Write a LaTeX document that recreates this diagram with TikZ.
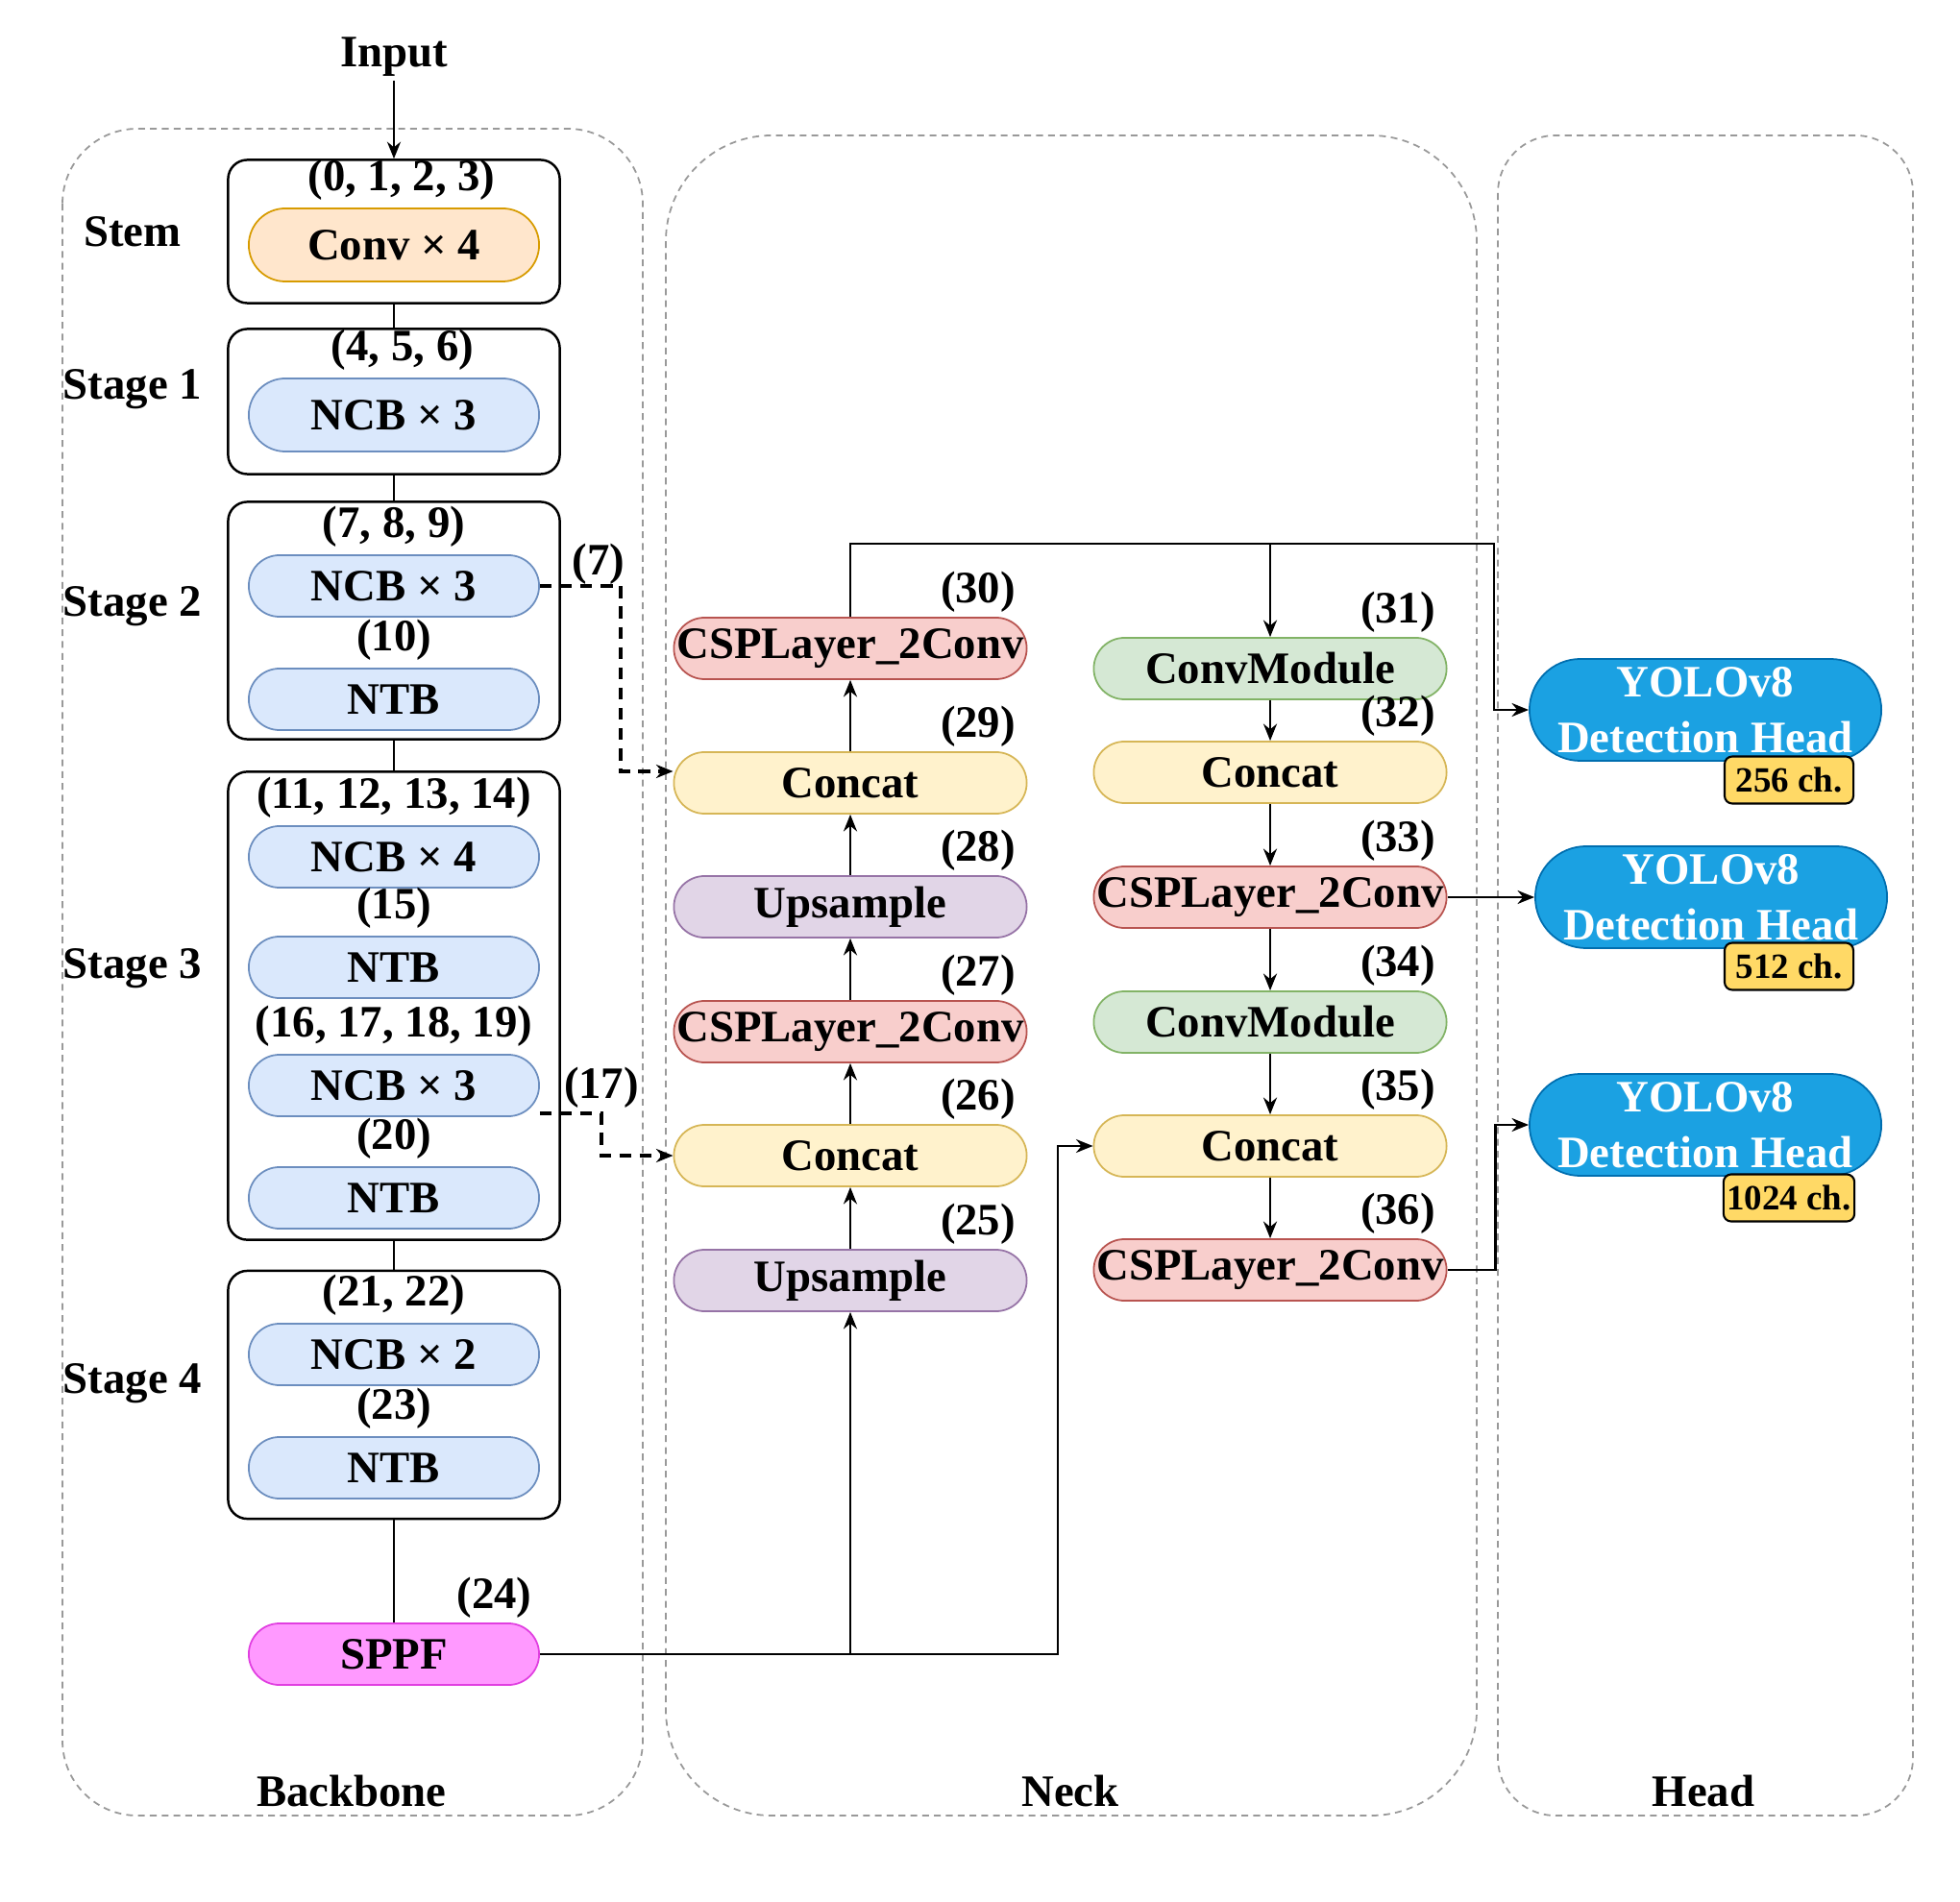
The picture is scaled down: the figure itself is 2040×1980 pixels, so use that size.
\documentclass[tikz,border=0pt]{standalone}
\usepackage{fontspec}
\setmainfont{Liberation Serif}
\usetikzlibrary{positioning, arrows.meta}

\definecolor{convfill}{HTML}{FFE6CC}
\definecolor{convline}{HTML}{D79B00}
\definecolor{ncbfill}{HTML}{DAE8FC}
\definecolor{ncbline}{HTML}{6C8EBF}
\definecolor{cspfill}{HTML}{F8CECC}
\definecolor{cspline}{HTML}{B85450}
\definecolor{catfill}{HTML}{FFF2CC}
\definecolor{catline}{HTML}{D6B656}
\definecolor{upsfill}{HTML}{E1D5E7}
\definecolor{upsline}{HTML}{9673A6}
\definecolor{cvmfill}{HTML}{D5E8D4}
\definecolor{cvmline}{HTML}{82B366}
\definecolor{sppffill}{HTML}{FF99FF}
\definecolor{sppfline}{HTML}{E03FE0}
\definecolor{yolofill}{HTML}{1BA1E2}
\definecolor{yololine}{HTML}{006EAF}
\definecolor{badgefill}{HTML}{FFD966}

\tikzset{
	every node/.style={font=\fontsize{13.3}{16.5}\selectfont\bfseries},
	group/.style={draw=gray!80, dashed, dash pattern=on 2pt off 1.5pt, line width=0.5pt},
	lbl/.style={inner sep=1pt},
	idx/.style={inner sep=1pt},
	stagebox/.style={draw, rectangle, rounded corners=0.2cm, line width=0.7pt, minimum width=3.45cm},
	pill/.style={draw, rectangle, rounded corners=0.32cm, line width=0.5pt, minimum width=3.02cm, minimum height=0.64cm, inner sep=0pt},
	ncb/.style={pill, fill=ncbfill, draw=ncbline},
	neck/.style={pill, minimum width=3.67cm},
	csp/.style={neck, fill=cspfill, draw=cspline},
	cat/.style={neck, fill=catfill, draw=catline},
	ups/.style={neck, fill=upsfill, draw=upsline},
	cvm/.style={neck, fill=cvmfill, draw=cvmline},
	yolo/.style={pill, minimum width=3.66cm, minimum height=1.06cm, rounded corners=0.53cm, fill=yolofill, draw=yololine, text=white, align=center},
	badge/.style={draw, rectangle, rounded corners=0.08cm, fill=badgefill, line width=0.6pt, minimum width=1.34cm, minimum height=0.49cm, inner sep=1pt, font=\fontsize{10.5}{12}\selectfont\bfseries},
	skip/.style={dashed, dash pattern=on 3.5pt off 2.5pt, line width=0.9pt}
}

\begin{document}
\begin{tikzpicture}[x=0.01cm, y=-0.01cm, line width=0.6pt, >={Stealth[length=5pt, width=4pt]}]
	\useasboundingbox (0,0) rectangle (2040,1980);

	% groups
	\draw[group, rounded corners=0.78cm] (65,134) rectangle (669,1890);
	\draw[group, rounded corners=1.1cm] (693,141) rectangle (1537,1890);
	\draw[group, rounded corners=0.6cm] (1559,141) rectangle (1991,1890);
	\node[lbl] (bb) at (366,1864) {Backbone};
	\node[lbl] (nk) at (1114,1864) {Neck};
	\node[lbl] (hd) at (1773,1864) {Head};

	% backbone
	\node[lbl] (input) at (410,59) {Input};

	\node[stagebox, minimum height=1.49cm] (stem) at (410,241) {};
	\node[pill, fill=convfill, draw=convline, minimum height=0.76cm, rounded corners=0.38cm] (b0) at (410,255) {Conv × 4};
	\node[idx, above=1pt of b0, xshift=0.08cm] (i0) {(0, 1, 2, 3)};
	\node[lbl] (stem-l) at (138,241) {Stem};

	\node[stagebox, minimum height=1.51cm] (s1) at (410,418) {};
	\node[ncb, minimum height=0.76cm, rounded corners=0.38cm] (b1) at (410,432) {NCB × 3};
	\node[idx, above=1pt of b1, xshift=0.09cm] (i1) {(4, 5, 6)};
	\node[lbl] (s1-l) at (138,405) {Stage 1};

	\node[stagebox, minimum height=2.47cm] (s2) at (410,646) {};
	\node[ncb] (b2) at (410,610) {NCB × 3};
	\node[idx, above=1pt of b2] (i2) {(7, 8, 9)};
	\node[ncb] (b3) at (410,728) {NTB};
	\node[idx, above=1pt of b3] (i3) {(10)};
	\node[lbl] (s2-l) at (138,631) {Stage 2};

	\node[stagebox, minimum height=4.87cm] (s3) at (410,1047) {};
	\node[ncb] (b4) at (410,892) {NCB × 4};
	\node[idx, above=1pt of b4] (i4) {(11, 12, 13, 14)};
	\node[ncb] (b5) at (410,1007) {NTB};
	\node[idx, above=1pt of b5] (i5) {(15)};
	\node[ncb] (b6) at (410,1130) {NCB × 3};
	\node[idx, above=1pt of b6] (i6) {(16, 17, 18, 19)};
	\node[ncb] (b7) at (410,1247) {NTB};
	\node[idx, above=1pt of b7] (i7) {(20)};
	\node[lbl] (s3-l) at (138,1008) {Stage 3};

	\node[stagebox, minimum height=2.58cm] (s4) at (410,1452) {};
	\node[ncb] (b8) at (410,1410) {NCB × 2};
	\node[idx, above=1pt of b8] (i8) {(21, 22)};
	\node[ncb] (b9) at (410,1528) {NTB};
	\node[idx, above=1pt of b9] (i9) {(23)};
	\node[lbl] (s4-l) at (138,1440) {Stage 4};

	\node[pill, fill=sppffill, draw=sppfline] (sppf) at (410,1722) {SPPF};
	\node[idx, anchor=south east] (i24) at ([xshift=-0.04cm]sppf.north east) {(24)};

	% neck
	\node[csp] (n30) at (885,675) {CSPLayer\_2Conv};
	\node[cat] (n29) at (885,815) {Concat};
	\node[ups] (n28) at (885,944) {Upsample};
	\node[csp] (n27) at (885,1074) {CSPLayer\_2Conv};
	\node[cat] (n26) at (885,1203) {Concat};
	\node[ups] (n25) at (885,1333) {Upsample};

	\node[cvm] (n31) at (1322,696) {ConvModule};
	\node[cat] (n32) at (1322,804) {Concat};
	\node[csp] (n33) at (1322,934) {CSPLayer\_2Conv};
	\node[cvm] (n34) at (1322,1064) {ConvModule};
	\node[cat] (n35) at (1322,1193) {Concat};
	\node[csp] (n36) at (1322,1322) {CSPLayer\_2Conv};

	\foreach \n in {25,...,36}
		\node[idx, anchor=south east] (i\n) at ([xshift=-0.08cm]n\n.north east) {(\n)};

	% head
	\node[yolo] (h1) at (1775,739) {YOLOv8\\Detection Head};
	\node[badge] (c1) at (1862,812) {256 ch.};
	\node[yolo] (h2) at (1781,934) {YOLOv8\\Detection Head};
	\node[badge] (c2) at (1862,1006) {512 ch.};
	\node[yolo] (h3) at (1775,1171) {YOLOv8\\Detection Head};
	\node[badge] (c3) at (1862,1247) {1024 ch.};

	% backbone links
	\draw[->] (input) -- (stem);
	\draw (stem) -- (s1) (s1) -- (s2) (s2) -- (s3) (s3) -- (s4) (s4) -- (sppf);
	\draw[skip, ->] (b2.east) -- ++(84,0) node[idx, above left, inner sep=0pt, xshift=0.06cm] (k7) {(7)} |- ([yshift=0.12cm]n29.west);
	\draw[skip, ->] ([yshift=-0.29cm]b6.east) -- ++(64,0) node[idx, above, inner sep=1pt] (k17) {(17)} |- (n26.west);

	% neck links
	\coordinate (j1) at (1101,1722);
	\coordinate (j2) at (1555,566);
	\draw[->] (sppf.east) -| (n25.south);
	\draw[->] (sppf.east) -- (j1) |- (n35.west);
	\foreach \a/\b in {25/26, 26/27, 27/28, 28/29, 29/30, 31/32, 32/33, 33/34, 34/35, 35/36}
		\draw[->] (n\a) -- (n\b);
	\draw[->] (n30.north) |- (j2) |- (h1.west);
	\draw[->] (n31.north |- j2) -- (n31.north);
	\draw[->] (n33) -- (h2);
	\draw[->] (n36.east) -- ++(50,0) |- (h3.west);
\end{tikzpicture}
\end{document}
